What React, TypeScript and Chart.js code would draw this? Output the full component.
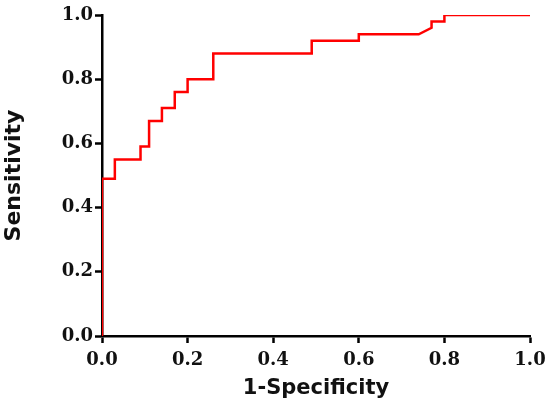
import React, { useEffect, useRef } from "react";
import { Chart, registerables } from "chart.js";

Chart.register(...registerables);

const fpr: number[] = [0, 0, 0.03, 0.03, 0.09, 0.09, 0.11, 0.11, 0.14, 0.14, 0.17, 0.17, 0.2, 0.2, 0.26, 0.26, 0.49, 0.49, 0.6, 0.6, 0.74, 0.77, 0.77, 0.8, 0.8, 1.0];
const tpr: number[] = [0, 0.49, 0.49, 0.55, 0.55, 0.59, 0.59, 0.67, 0.67, 0.71, 0.71, 0.76, 0.76, 0.8, 0.8, 0.88, 0.88, 0.92, 0.92, 0.94, 0.94, 0.96, 0.98, 0.98, 1.0, 1.0];
const tickValues: number[] = [0, 0.2, 0.4, 0.6, 0.8, 1.0];
const xTitle = "1-Specificity";
const yTitle = "Sensitivity";

export default function App() {
  const ref = useRef<HTMLCanvasElement | null>(null);
  useEffect(() => {
    if (!ref.current) return;
    const tickFont = { family: "'DejaVu Serif'", size: 18, weight: "bold" as const };
    const chart = new Chart(ref.current, {
      type: "line",
      data: {
        datasets: [
          {
            data: fpr.map((x, i) => ({ x, y: tpr[i] })),
            borderColor: "#ff0000",
            borderWidth: 2.5,
            pointRadius: 0,
            fill: false,
            tension: 0,
          },
        ],
      },
      options: {
        animation: false,
        responsive: false,
        devicePixelRatio: 1,
        layout: { padding: { top: 15, right: 20, left: 0, bottom: 0 } },
        plugins: { legend: { display: false }, tooltip: { enabled: false } },
        scales: {
          x: {
            type: "linear",
            min: 0,
            max: 1,
            afterBuildTicks: (s: any) => {
              s.ticks = tickValues.map((v) => ({ value: v }));
            },
            afterFit: (s: any) => {
              s.height = 67;
              s.paddingLeft = 0;
              s.paddingRight = 0;
            },
            ticks: {
              color: "#111",
              font: tickFont,
              padding: 7,
              maxRotation: 0,
              callback: (v: any) => Number(v).toFixed(1),
            },
            grid: { drawOnChartArea: false, tickLength: 7, tickWidth: 2.5, tickColor: "#000" },
            border: { display: true, color: "#000", width: 2.5 },
            title: {
              display: true,
              text: xTitle,
              color: "#111",
              font: { family: "'DejaVu Sans'", size: 21, weight: "bold" },
              padding: { top: 0, bottom: 2 },
            },
          },
          y: {
            type: "linear",
            min: 0,
            max: 1,
            afterBuildTicks: (s: any) => {
              s.ticks = tickValues.map((v) => ({ value: v }));
            },
            afterFit: (s: any) => {
              s.width = 102;
              s.paddingTop = 0;
              s.paddingBottom = 0;
            },
            ticks: {
              color: "#111",
              font: tickFont,
              padding: 2,
              callback: (v: any) => Number(v).toFixed(1),
            },
            grid: { drawOnChartArea: false, tickLength: 7, tickWidth: 2.5, tickColor: "#000" },
            border: { display: true, color: "#000", width: 2.5 },
            title: {
              display: true,
              text: yTitle,
              color: "#111",
              font: { family: "'DejaVu Sans'", size: 22, weight: "bold" },
              padding: { top: 1, bottom: 0 },
            },
          },
        },
      },
    });
    return () => chart.destroy();
  }, []);
  return (
    <div style={{ position: "absolute", left: 0, top: 0, width: 550, height: 403, background: "#fff" }}>
      <canvas ref={ref} width={550} height={403} style={{ width: 550, height: 403, display: "block" }} />
    </div>
  );
}
